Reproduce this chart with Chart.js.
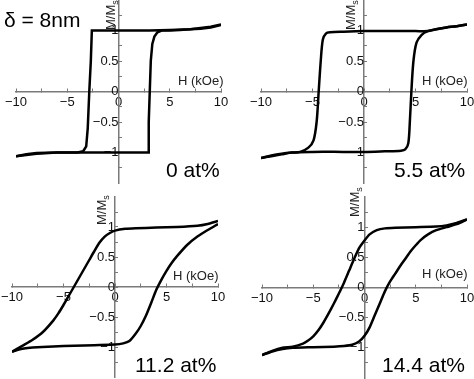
<!DOCTYPE html>
<html><head><meta charset="utf-8">
<script src="https://cdn.jsdelivr.net/npm/chart.js@4.4.0/dist/chart.umd.min.js"></script>
<style>
body{margin:0;background:#fff;width:474px;height:379px;overflow:hidden;position:relative;font-family:"Liberation Sans",Arial,Helvetica,sans-serif;}
canvas{position:absolute;}
.t{position:absolute;white-space:nowrap;line-height:1;color:#000;}
.big{font-size:21px;}
.ax{font-size:13px;color:#222;}
.rot{transform-origin:0 0;transform:rotate(-90deg);}
.rot span{font-size:9px;vertical-align:-3px;}
</style></head><body>
<canvas id="c1"></canvas><canvas id="c2"></canvas><canvas id="c3"></canvas><canvas id="c4"></canvas>
<script>
// ---- data (H in kOe, M/Ms) ----
const xTickLabels = [-10, -5, 0, 5, 10];
const yTickLabels = [-1, -0.5, 0, 0.5, 1];
const panelLabels = ['0 at%', '5.5 at%', '11.2 at%', '14.4 at%'];
const headerLabel = 'δ = 8nm';
const xTitle = 'H (kOe)';

// 0 at%
const p1UpH = [10, 9, 8, 7, 5, 3, 0, -2.6, -2.7, -2.85, -3.0, -3.15, -3.45, -4, -6, -8, -9, -10];
const p1UpM = [1.09, 1.05, 1.03, 1.02, 1.01, 1.0, 1.0, 1.0, 0.5, 0, -0.6, -0.9, -0.98, -1.0, -1.0, -1.01, -1.03, -1.06];
const p1LoH = [-10, -9, -8, -6, -3, 0, 2.9, 2.95, 3.05, 3.15, 3.3, 3.5, 3.8, 4.2, 5, 6, 7, 8, 9, 10];
const p1LoM = [-1.06, -1.04, -1.02, -1.0, -1.0, -1.0, -1.0, -0.5, 0, 0.5, 0.78, 0.9, 0.97, 1.0, 1.0, 1.01, 1.02, 1.04, 1.06, 1.1];
// 5.5 at%
const p2UpH = [10, 9, 8, 7, 6.2, 5, 2, 0, -2, -3.3, -3.7, -4.0, -4.2, -4.4, -4.6, -4.9, -5.4, -6.2, -7, -8, -9, -10];
const p2UpM = [1.1, 1.07, 1.05, 1.02, 0.99, 0.99, 0.99, 0.99, 0.98, 0.97, 0.95, 0.85, 0.5, 0, -0.5, -0.8, -0.92, -0.99, -1.0, -1.02, -1.05, -1.09];
const p2LoH = [-10, -9, -8, -7, -5, -2, 0, 2, 3.6, 4.0, 4.3, 4.45, 4.6, 4.8, 5.1, 5.6, 6.2, 7, 8, 9, 10];
const p2LoM = [-1.09, -1.06, -1.03, -1.0, -0.99, -0.99, -0.99, -0.98, -0.97, -0.95, -0.85, -0.5, 0, 0.5, 0.8, 0.93, 0.99, 1.02, 1.05, 1.07, 1.1];
// 11.2 at%
const p3UpH = [10, 9, 8, 6, 4, 2, 1, 0, -0.5, -1, -1.5, -2, -2.5, -3, -3.5, -4, -4.5, -5, -5.5, -6, -7, -8, -9, -9.6, -10];
const p3UpM = [1.1, 1.05, 1.02, 1.0, 0.99, 0.98, 0.97, 0.94, 0.9, 0.84, 0.74, 0.6, 0.45, 0.3, 0.15, 0, -0.15, -0.3, -0.44, -0.56, -0.75, -0.88, -0.98, -1.04, -1.08];
const p3LoH = [-10, -9.5, -9, -8, -6, -4, -2, 0, 0.8, 1.4, 2, 2.5, 3, 3.5, 4, 4.5, 5, 5.5, 6, 7, 8, 9, 10];
const p3LoM = [-1.08, -1.05, -1.03, -1.01, -0.99, -0.98, -0.97, -0.96, -0.94, -0.9, -0.78, -0.65, -0.48, -0.27, -0.05, 0.12, 0.27, 0.4, 0.51, 0.7, 0.84, 0.95, 1.05];
// 14.4 at%
const p4UpH = [10, 9, 8, 7, 5, 3, 2, 1.2, 0.5, 0, -0.5, -1, -1.5, -2, -2.5, -3, -3.5, -4, -4.5, -5, -5.5, -6, -7, -8, -9, -10];
const p4UpM = [1.13, 1.07, 1.03, 1.01, 1.0, 0.99, 0.98, 0.95, 0.88, 0.78, 0.66, 0.48, 0.28, 0.08, -0.1, -0.27, -0.43, -0.58, -0.71, -0.81, -0.88, -0.93, -0.98, -1.0, -1.05, -1.12];
const p4LoH = [-10, -9, -8, -7, -5, -3, -2, -1.2, -0.5, 0, 0.5, 1, 1.5, 2, 2.5, 3, 3.5, 4, 4.5, 5, 5.5, 6.2, 7, 8, 9, 10];
const p4LoM = [-1.12, -1.06, -1.02, -1.0, -0.99, -0.98, -0.97, -0.95, -0.89, -0.8, -0.66, -0.46, -0.26, -0.06, 0.1, 0.23, 0.36, 0.48, 0.6, 0.7, 0.79, 0.88, 0.95, 1.0, 1.05, 1.13];

const panels = [
  {id:'c1', up:[p1UpH,p1UpM], lo:[p1LoH,p1LoM], tension:0,   area:{l:16, t:0,   w:205, h:183}},
  {id:'c2', up:[p2UpH,p2UpM], lo:[p2LoH,p2LoM], tension:0.3, area:{l:261, t:0,  w:206, h:183}},
  {id:'c3', up:[p3UpH,p3UpM], lo:[p3LoH,p3LoM], tension:0.2, area:{l:12, t:197, w:206, h:180}},
  {id:'c4', up:[p4UpH,p4UpM], lo:[p4LoH,p4LoM], tension:0.2, area:{l:262, t:197, w:205, h:181}}
];

const PAD = 20;
const fmt = v => (v < 0 ? '\u2212' + Math.abs(v) : String(v));
const toPts = (hs, ms) => hs.map((h, i) => ({x: h, y: ms[i]}));
const axisColor = '#7a7a7a';

panels.forEach(p => {
  const cv = document.getElementById(p.id);
  cv.width = p.area.w + 2 * PAD;
  cv.height = p.area.h + 2 * PAD;
  cv.style.left = (p.area.l - PAD) + 'px';
  cv.style.top = (p.area.t - PAD) + 'px';
  const ds = o => ({data: o, showLine: true, borderColor: '#000', borderWidth: 2.5, pointRadius: 0, tension: p.tension, fill: false});
  new Chart(cv, {
    type: 'scatter',
    data: {datasets: [ds(toPts(p.up[0], p.up[1])), ds(toPts(p.lo[0], p.lo[1]))]},
    options: {
      responsive: false, animation: false, devicePixelRatio: 1, events: [],
      layout: {padding: PAD},
      plugins: {legend: {display: false}, tooltip: {enabled: false}},
      scales: {
        x: {
          type: 'linear', min: -10, max: 10, position: {y: 0},
          border: {color: axisColor, width: 1.5},
          grid: {drawOnChartArea: false, drawTicks: true, tickLength: -4, color: axisColor, lineWidth: 1},
          ticks: {stepSize: 2.5, autoSkip: false, maxRotation: 0, padding: 7, color: '#111',
                  font: {family: 'Liberation Sans, Arial, sans-serif', size: 13},
                  callback: v => (xTickLabels.includes(v) ? fmt(v) : '')}
        },
        y: {
          type: 'linear', min: -1.5, max: 1.5, position: {x: 0},
          border: {color: axisColor, width: 1.5},
          grid: {drawOnChartArea: false, drawTicks: true, tickLength: -4, color: axisColor, lineWidth: 1},
          ticks: {stepSize: 0.25, autoSkip: false, padding: 5, color: '#111',
                  font: {family: 'Liberation Sans, Arial, sans-serif', size: 13},
                  callback: v => (Math.abs(v) === 1.5 ? null : (yTickLabels.includes(v) ? fmt(v) : ''))}
        }
      }
    }
  });
});

// text overlays
function addText(txt, cls, left, baseline, size) {
  const d = document.createElement('div');
  d.className = 't ' + cls;
  d.textContent = txt;
  d.style.left = left + 'px';
  d.style.top = (baseline - 0.8465 * size) + 'px';
  document.body.appendChild(d);
}
addText(headerLabel, 'big', 4, 26.5, 21);
const labelPos = [[166, 177], [394, 177], [135, 372], [382, 372]];
panelLabels.forEach((s, i) => addText(s, 'big', labelPos[i][0], labelPos[i][1], 21));
const titlePos = [[178, 85], [422, 85], [173, 280], [422, 278]];
titlePos.forEach(tp => addText(xTitle, 'ax', tp[0], tp[1], 13));
// rotated y titles: [baseline x, start y]
const yTitlePos = [[115, 30], [355, 30], [106, 225], [359, 217]];
yTitlePos.forEach(tp => {
  const d = document.createElement('div');
  d.className = 't ax rot';
  d.innerHTML = 'M/M<span>s</span>';
  d.style.left = (tp[0] - 11) + 'px';
  d.style.top = tp[1] + 'px';
  document.body.appendChild(d);
});
</script>
</body></html>
